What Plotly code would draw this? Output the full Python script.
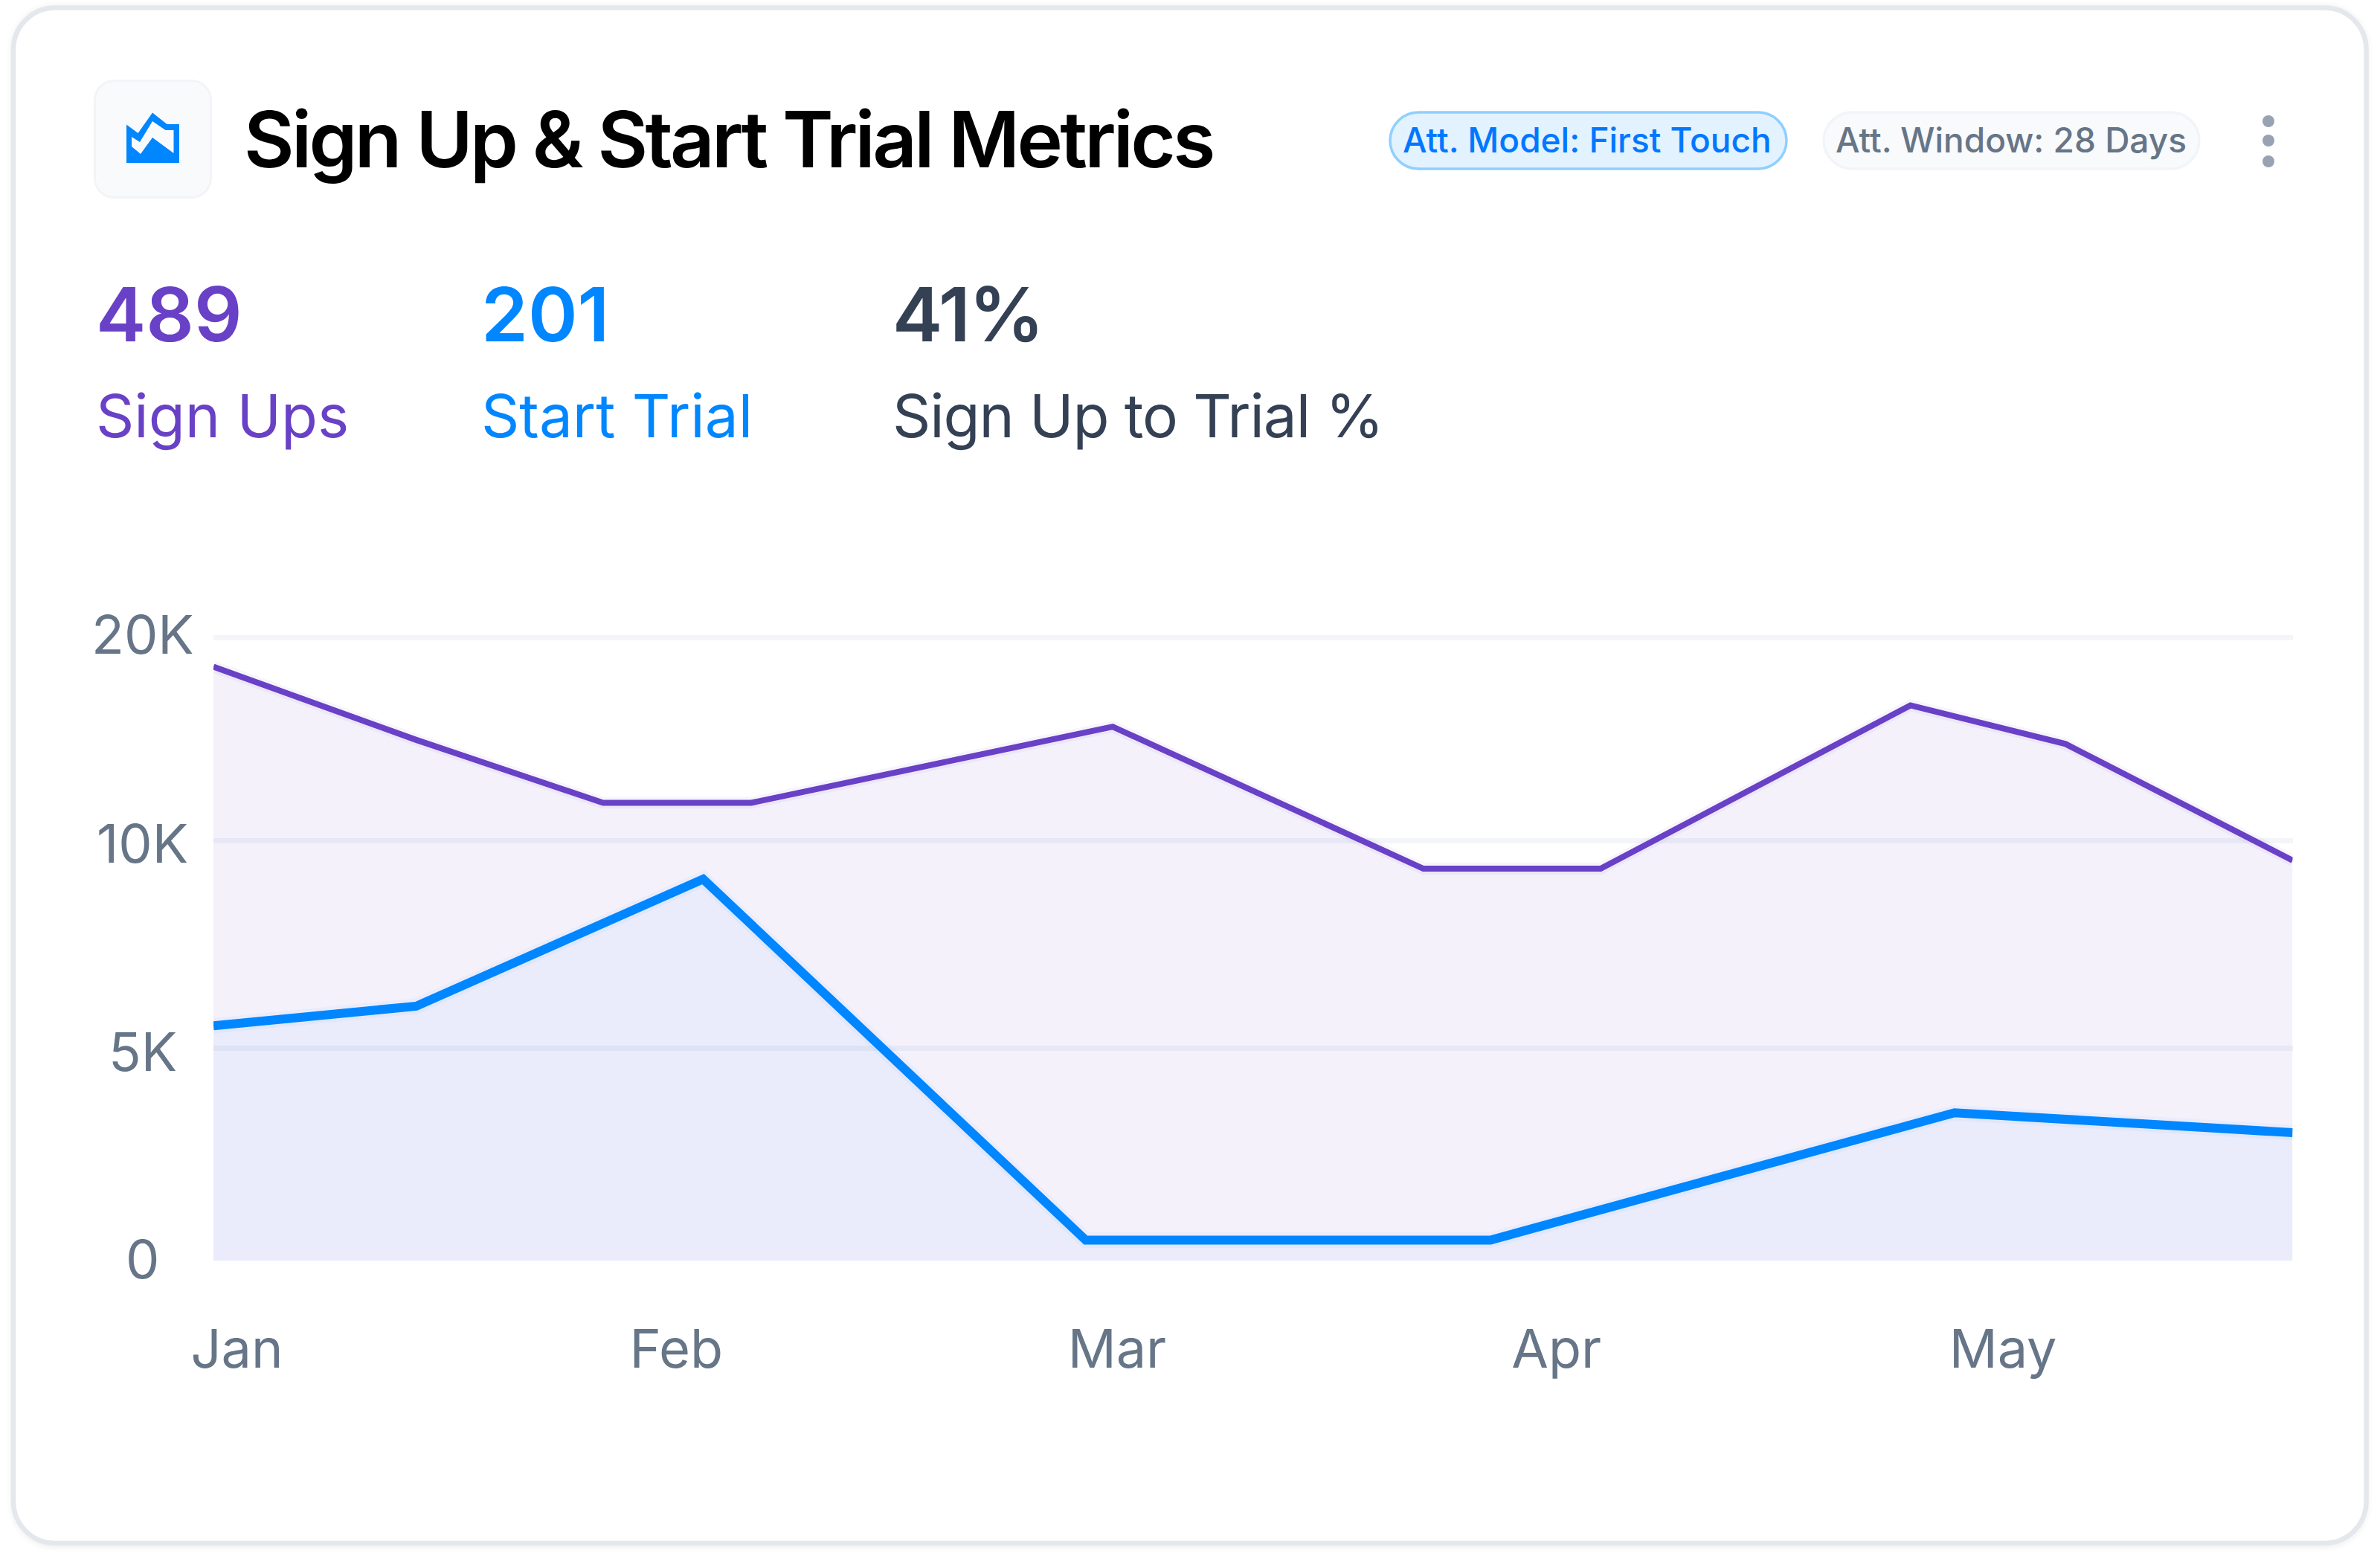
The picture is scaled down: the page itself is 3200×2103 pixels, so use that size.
import numpy as np
import plotly.graph_objects as go

W, H = 3200, 2103

# --- data -----------------------------------------------------------------
month_labels = ["Jan", "Feb", "Mar", "Apr", "May"]
month_ticks = [0.003, 1, 2, 2.997, 4.01]

signup_months = [-0.05, 0.41, 0.834, 1.17, 1.99, 2.695, 3.097, 3.80, 4.152, 4.667]
signup_values = [18550, 14950, 11850, 11850, 15600, 9320, 9320, 16650, 14750, 9520]

trial_months = [-0.05, 0.41, 1.061, 1.929, 2.847, 3.90, 4.667]
trial_values = [5550, 6020, 9070, 490, 490, 3490, 3020]

y_tick_values = [0, 5000, 10000, 20000]
y_tick_labels = ["0", "5K", "10K", "20K"]
# the axis spaces its ticks almost evenly although their values are not linear
y_tick_scale = [0, 0.3405, 0.6744, 1.0]

metric_values = ["489", "201", "41%"]
metric_names = ["Sign Ups", "Start Trial", "Sign Up to Trial %"]
title_text = "Sign Up & Start Trial Metrics"
badge_texts = ["Att. Model: First Touch", "Att. Window: 28 Days"]

# --- helpers --------------------------------------------------------------
PURPLE, BLUE = "#6941C6", "#0086FF"
GREY, SLATE = "#667587", "#344054"
FONT = "Inter"


def to_scale(v):
    return np.interp(v, y_tick_values, y_tick_scale).tolist()


def px(x):
    return x / W


def py(y):
    return 1 - y / H


def rrect(x0, y0, x1, y1, r, fill, line=None, lw=0, opacity=1):
    k = 0.45 * r
    pts = [
        f"M{px(x0 + r)},{py(y0)}", f"L{px(x1 - r)},{py(y0)}",
        f"C{px(x1 - k)},{py(y0)} {px(x1)},{py(y0 + k)} {px(x1)},{py(y0 + r)}",
        f"L{px(x1)},{py(y1 - r)}",
        f"C{px(x1)},{py(y1 - k)} {px(x1 - k)},{py(y1)} {px(x1 - r)},{py(y1)}",
        f"L{px(x0 + r)},{py(y1)}",
        f"C{px(x0 + k)},{py(y1)} {px(x0)},{py(y1 - k)} {px(x0)},{py(y1 - r)}",
        f"L{px(x0)},{py(y0 + r)}",
        f"C{px(x0)},{py(y0 + k)} {px(x0 + k)},{py(y0)} {px(x0 + r)},{py(y0)}", "Z",
    ]
    return dict(type="path", xref="paper", yref="paper", path=" ".join(pts), fillcolor=fill,
                line=dict(color=line or "rgba(0,0,0,0)", width=lw), opacity=opacity, layer="below")


def poly(points, fill):
    d = "M" + " L".join(f"{px(x)},{py(y)}" for x, y in points) + " Z"
    return dict(type="path", xref="paper", yref="paper", path=d, fillcolor=fill,
                line=dict(width=0), layer="above")


def label(x, y, text, size, color, weight=400, anchor="left"):
    return dict(xref="paper", yref="paper", x=px(x), y=py(y), text=text, showarrow=False,
                xanchor=anchor, yanchor="middle", borderpad=0, align="left",
                font=dict(family=FONT, size=size, color=color, weight=weight))


# --- traces ---------------------------------------------------------------
fig = go.Figure()
signup_y = to_scale(signup_values)
trial_y = to_scale(trial_values)

fig.add_trace(go.Scatter(x=signup_months, y=signup_y, mode="lines", showlegend=False, hoverinfo="skip",
                         line=dict(color="rgba(105,65,198,0.05)", width=16)))
fig.add_trace(go.Scatter(x=signup_months, y=signup_y, mode="lines", name="Sign Ups", showlegend=False,
                         fill="tozeroy", fillcolor="rgba(105,65,198,0.075)",
                         line=dict(color=PURPLE, width=8)))
fig.add_trace(go.Scatter(x=trial_months, y=trial_y, mode="lines", showlegend=False, hoverinfo="skip",
                         line=dict(color="rgba(0,134,255,0.04)", width=21)))
fig.add_trace(go.Scatter(x=trial_months, y=trial_y, mode="lines", name="Start Trial", showlegend=False,
                         fill="tozeroy", fillcolor="rgba(0,134,255,0.04)",
                         line=dict(color=BLUE, width=12)))

# --- decoration -----------------------------------------------------------
shapes = []
for grow, alpha in [(8, 0.010), (5, 0.014), (2, 0.018)]:
    shapes.append(rrect(18 - grow, 10 - grow, 3181.5 + grow, 2075 + grow + 3, 56 + grow, "#101828", opacity=alpha))
shapes.append(rrect(18, 10.5, 3181.5, 2075, 56, "#FFFFFF", "#E4E7EC", 6.5))
shapes.append(rrect(127.5, 108.5, 283.5, 265.5, 26, "#F9FAFB", "#F2F4F7", 3))
shapes.append(rrect(1869, 151, 2402, 227, 38, "#E2F2FF", "#90CFFF", 3.5))
shapes.append(rrect(2452, 151, 2957, 227, 38, "#F8FAFC", "#F1F5F9", 3.5))
for cy in (163, 189, 217):
    shapes.append(dict(type="circle", xref="paper", yref="paper", x0=px(3042), x1=px(3058),
                       y0=py(cy + 8), y1=py(cy - 8), fillcolor="#98A2B3", line=dict(width=0), layer="above"))
shapes.append(poly([(205, 151.5), (224.5, 167), (241, 167), (241, 219), (170, 219), (170, 167.5),
                    (185.6, 179)], BLUE))
shapes.append(poly([(177, 184), (188, 191), (205, 163), (222.5, 175), (233.5, 175), (233.5, 206),
                    (205, 185), (189, 207), (177, 197)], "#F9FAFB"))

annotations = [
    label(327, 187, title_text, 104, "#000000", 600),
    label(1885, 188, badge_texts[0], 46, "#0077FF", 500),
    label(2467, 188, badge_texts[1], 46, GREY, 500),
    label(128, 422, metric_values[0], 101, PURPLE, 600),
    label(646, 422, metric_values[1], 101, BLUE, 600),
    label(1199, 422, metric_values[2], 101, SLATE, 600),
    label(128, 558, metric_names[0], 80, PURPLE),
    label(646, 558, metric_names[1], 80, BLUE),
    label(1199, 558, metric_names[2], 80, SLATE),
]
for text, pos, shift in zip(y_tick_labels, y_tick_scale, [3, -4, -3, 5]):
    annotations.append(dict(xref="paper", yref="y", x=px(191.5), y=pos, text=text, showarrow=False,
                            xanchor="center", yanchor="middle", yshift=shift, borderpad=0,
                            font=dict(family=FONT, size=72, color=GREY)))

PLOT_L, PLOT_R, PLOT_B, PLOT_T = 287, 3082.5, 1695.5, 800
fig.update_layout(
    template="none",
    width=W, height=H, margin=dict(l=0, r=0, t=0, b=0, pad=0),
    paper_bgcolor="#FFFFFF", plot_bgcolor="rgba(0,0,0,0)",
    shapes=shapes, annotations=annotations, showlegend=False,
    xaxis=dict(domain=[px(PLOT_L), px(PLOT_R)], range=[-0.05, 4.667], tickmode="array",
               tickvals=month_ticks, ticktext=month_labels, showgrid=False, zeroline=False,
               showline=False, ticks="", ticklabelstandoff=70, automargin=False,
               tickfont=dict(family=FONT, size=72, color=GREY)),
    yaxis=dict(domain=[py(PLOT_B), py(PLOT_T)], range=[0, (PLOT_B - PLOT_T) / 838.5], tickmode="array",
               tickvals=y_tick_scale[1:], showticklabels=False, showgrid=True, automargin=False,
               gridcolor="#F3F5F9", gridwidth=7, zeroline=False, showline=False, ticks=""),
)

tight = ("document.body.style.margin='0';"
         "var sp={'" + title_text.replace("&", "&amp;") + "':'-3.7px','" + metric_names[2] + "':'-1.1px','"
         + metric_values[2] + "':'-2px'};"
         "document.querySelectorAll('.annotation-text').forEach(function(t){"
         "var k=t.textContent.replace('&','&amp;');if(sp[k])t.style.letterSpacing=sp[k];});")
fig.write_html("out.html", post_script=tight, config={"displayModeBar": False})
